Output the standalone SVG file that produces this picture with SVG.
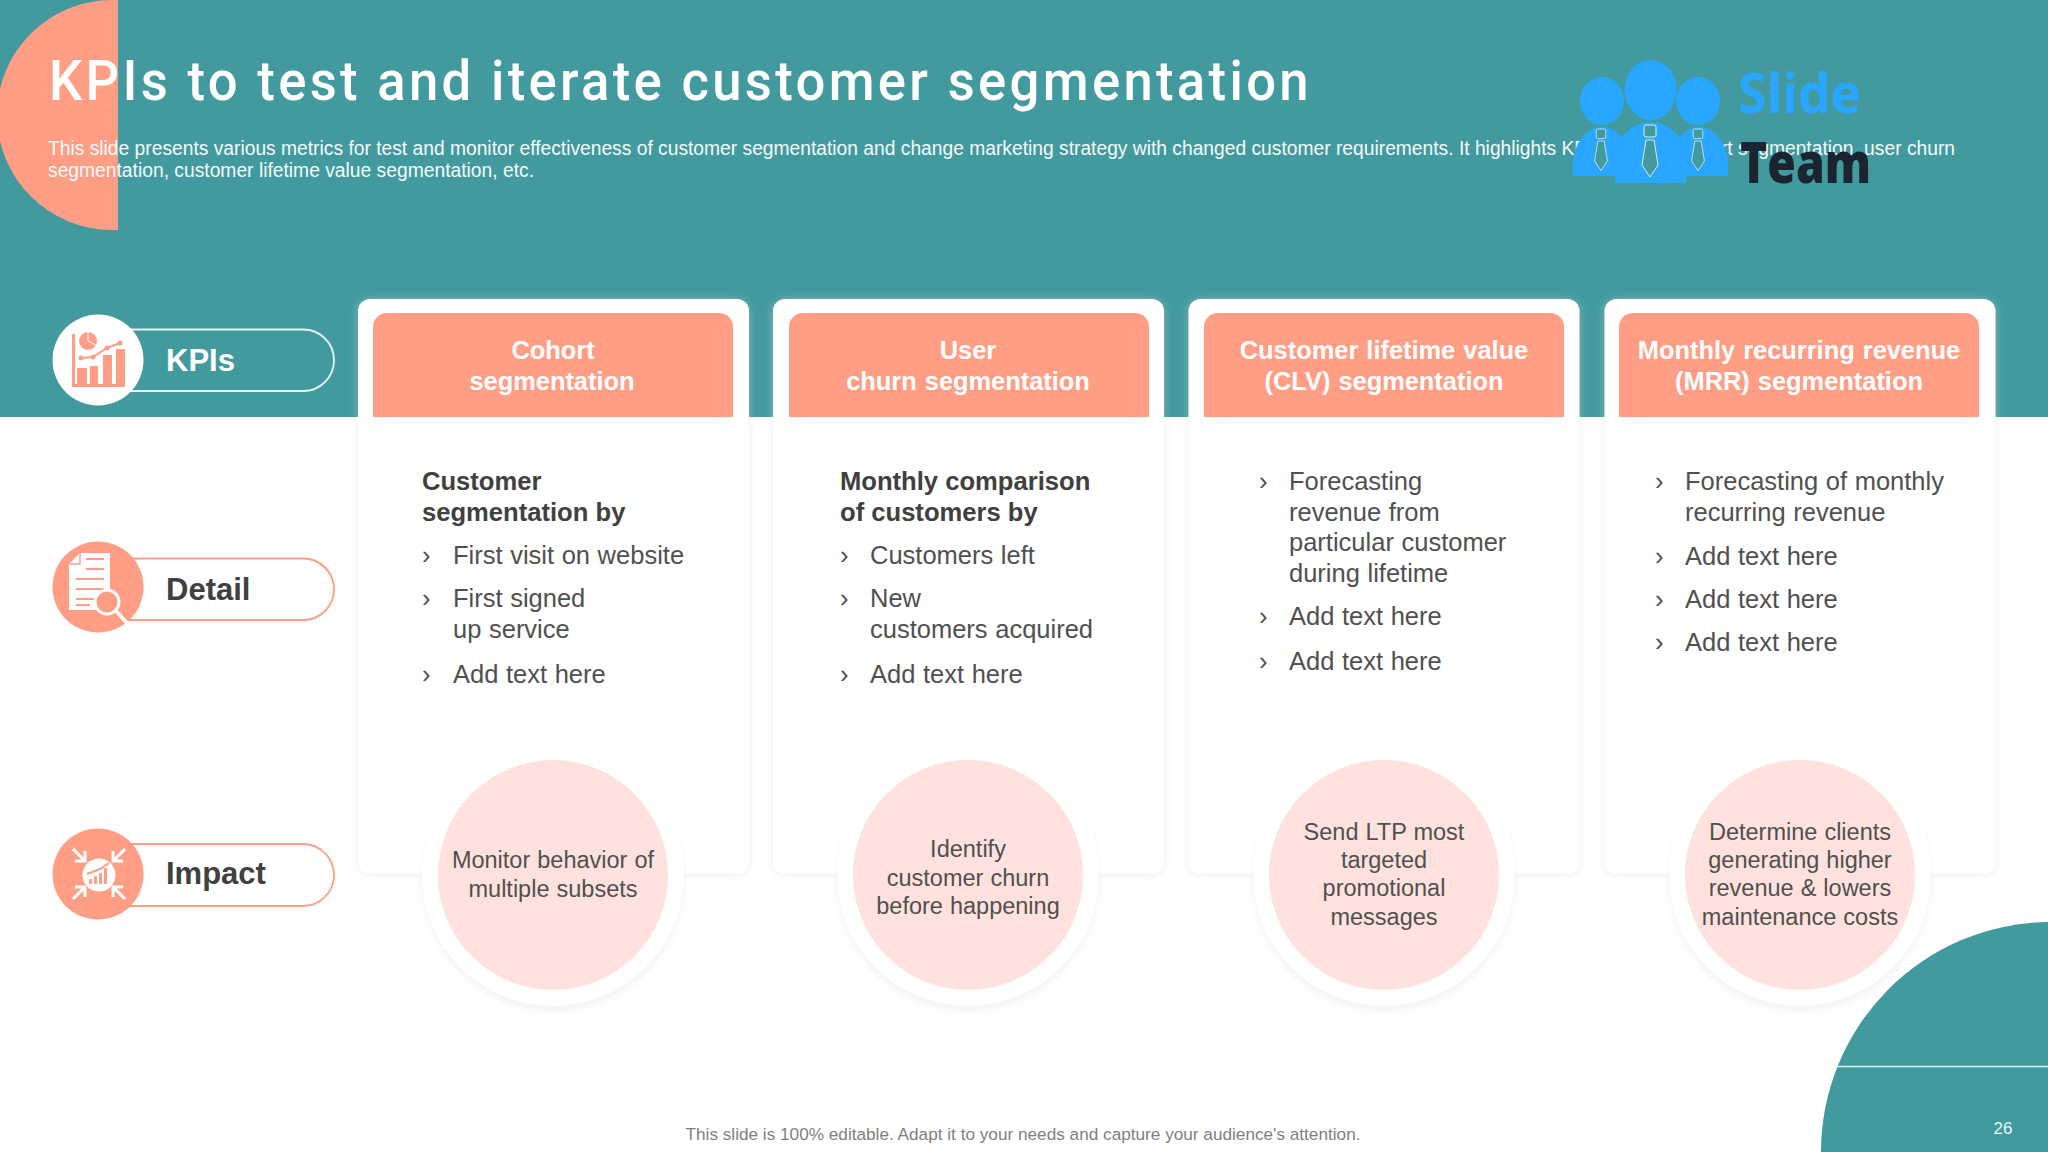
<svg xmlns="http://www.w3.org/2000/svg" xmlns:xlink="http://www.w3.org/1999/xlink" width="2048" height="1152" viewBox="0 0 2048 1152">
<style>
text{font-family:"Liberation Sans",Arial,sans-serif}
.teal{fill:#429a9e}.or{fill:#ff9e85}
.title{font-family:"Roboto","Liberation Sans",sans-serif;font-size:56px;font-weight:500;fill:#fff}
.sub{font-size:19.5px;fill:#f4fbfb}
.hd{font-size:25.4px;font-weight:700;fill:#fff;text-anchor:middle;word-spacing:1px}
.b{font-size:25.6px;font-weight:700;fill:#404040}
.t{font-size:25.5px;fill:#505050;word-spacing:.5px}
.c{font-size:23.5px;fill:#505050;text-anchor:middle;word-spacing:.5px}
.lab{font-size:31px;font-weight:700;fill:#404040}
.card{fill:#fff;filter:url(#s)}
.halo{fill:#fff;filter:url(#s2)}
.pink{fill:#ffe2dd}
.logo{font-family:"Open Sans","Noto Sans",sans-serif;font-size:56px;font-weight:700}
</style>
<defs>
<filter id="s" x="-10%" y="-10%" width="120%" height="120%"><feDropShadow dx="0" dy="1" stdDeviation="5" flood-color="#dcd6ea" flood-opacity=".45"/></filter>
<filter id="s2" x="-15%" y="-15%" width="130%" height="130%"><feDropShadow dx="0" dy="5" stdDeviation="3" flood-color="#d8d8e0" flood-opacity=".3"/></filter>
<g id="tie"><rect x="-6" y="0" width="12" height="12" rx="2" fill="#429a9e" stroke="#d8eef0" stroke-width="1"/><path d="M-4,15 H4 L8,40 L0,52 L-8,40 Z" fill="#429a9e" stroke="#d8eef0" stroke-width="1"/></g>
<g id="card"><rect class="card" x="0" y="0" width="391" height="575" rx="12"/></g>
<path id="hdr" d="M0,104 V14 A14,14 0 0 1 14,0 H346 A14,14 0 0 1 360,14 V104 Z" class="or"/>
</defs>

<rect width="2048" height="1152" fill="#fff"/>
<rect id="band" class="teal" width="2048" height="417"/>
<path id="arc" class="or" d="M118,0 H112 A115,115 0 0 0 112,230 H118 Z"/>
<text class="title" transform="translate(49,100) scale(.94,1)" x="0" y="0" textLength="1340" lengthAdjust="spacing">KPIs to test and iterate customer segmentation</text>
<text class="sub" x="48" y="155" textLength="1907" lengthAdjust="spacingAndGlyphs">This slide presents various metrics for test and monitor effectiveness of customer segmentation and change marketing strategy with changed customer requirements. It highlights KPIs such as cohort segmentation, user churn</text>
<text class="sub" x="48" y="177" textLength="486" lengthAdjust="spacingAndGlyphs">segmentation, customer lifetime value segmentation, etc.</text>

<g id="logo">
<path fill="#29a6ff" d="M1573,176 V165 C1573,142 1588,127 1602,127 C1616,127 1630,140 1630,165 V176 Z"/>
<path fill="#29a6ff" d="M1728,176 V165 C1728,142 1713,127 1699,127 C1685,127 1671,140 1671,165 V176 Z"/>
<path fill="#29a6ff" d="M1615,183 V160 C1615,136 1634,122 1650,122 C1667,122 1686,136 1686,160 V183 Z"/>
<ellipse cx="1602" cy="101" rx="22" ry="24" fill="#29a6ff"/>
<ellipse cx="1698" cy="101" rx="22" ry="24" fill="#29a6ff"/>
<ellipse cx="1650.5" cy="90" rx="26" ry="30" fill="#29a6ff"/>
<use xlink:href="#tie" href="#tie" transform="translate(1601,129) scale(.8)"/>
<use xlink:href="#tie" href="#tie" transform="translate(1650,125)"/>
<use xlink:href="#tie" href="#tie" transform="translate(1698,129) scale(.8)"/>
<text class="logo" x="1738" y="113" fill="#29a6ff" textLength="123" lengthAdjust="spacingAndGlyphs">Slide</text>
<text class="logo" x="1740" y="183" fill="#1a2530" style="font-weight:800" textLength="131" lengthAdjust="spacingAndGlyphs">Team</text>
</g>

<g id="label-kpis">
<rect x="98" y="329.500" width="236" height="61.500" rx="30.700" fill="none" stroke="#e4f6f6" stroke-width="1.800"/>
<circle cx="98" cy="360" r="45.500" fill="#fff"/>
<path d="M73.500,334 V385.500 H125" fill="none" stroke="#ff9e85" stroke-width="3"/>
<path class="or" d="M77,368H87V384H77ZM90,366H98V384H90ZM103,355H112V384H103ZM116,349H125V384H116Z"/>
<circle class="or" cx="88" cy="341" r="9"/>
<path d="M88,341V332M88,341L96,345" stroke="#fff" stroke-width="1" fill="none"/>
<path d="M81,358L93,357L107,348L120,343" fill="none" stroke="#ff9e85" stroke-width="2"/>
<circle class="or" cx="81" cy="358" r="2.500"/><circle class="or" cx="93" cy="357" r="2.500"/><circle class="or" cx="107" cy="348" r="2.500"/><circle class="or" cx="120" cy="343" r="2.500"/>
<text class="lab" x="166" y="371" style="fill:#fff">KPIs</text>
</g>

<g id="label-detail">
<rect x="98" y="558.500" width="236" height="61.500" rx="30.700" fill="#fff" stroke="#ff9e85" stroke-width="1.800"/>
<circle class="or" cx="98" cy="587" r="45.500"/>
<path fill="#fff" d="M80,553 H110 V610 H69 V564 Z"/>
<path d="M80,553V564H69" fill="none" stroke="#ff9e85" stroke-width="1.500"/>
<path d="M86,559H104M86,569H104M76,579H104M76,589H104M76,599H95M76,605H90" stroke="#ff9e85" stroke-width="1.800" fill="none"/>
<circle class="or" cx="107" cy="602" r="12" stroke="#fff" stroke-width="3"/>
<path d="M116,611L127,623" stroke="#fff" stroke-width="3.500"/>
<text class="lab" x="166" y="600">Detail</text>
</g>

<g id="label-impact">
<rect x="98" y="844" width="236" height="62" rx="31" fill="#fff" stroke="#ff9e85" stroke-width="1.800"/>
<circle class="or" cx="98" cy="874" r="45.500"/>
<circle cx="99" cy="875" r="16.500" fill="#fff"/>
<path class="or" d="M89,884h3v-5h-3zM94,884h3v-8h-3zM99,884h3v-11h-3zM104,884h3v-16h-3z"/>
<path d="M87,874L100,869L109,863" fill="none" stroke="#ff9e85" stroke-width="2"/>
<g fill="none" stroke="#fff" stroke-width="3">
<path d="M73,849L85,861M85,851V861H75"/>
<path d="M125,849L113,861M113,851V861H123"/>
<path d="M73,899L85,887M85,897V887H75"/>
<path d="M125,899L113,887M113,897V887H123"/>
</g>
<text class="lab" x="166" y="884">Impact</text>
</g>

<g id="col-1">
<use xlink:href="#card" href="#card" x="358" y="299"/>
<use xlink:href="#hdr" href="#hdr" x="373" y="313"/>
<text class="hd" x="553" y="359">Cohort</text>
<text class="hd" x="552" y="390">segmentation</text>
<text class="b" x="422" y="490">Customer</text>
<text class="b" x="422" y="521">segmentation by</text>
<text class="t" x="422" y="564">›</text><text class="t" x="453" y="564">First visit on website</text>
<text class="t" x="422" y="607">›</text><text class="t" x="453" y="607">First signed</text>
<text class="t" x="453" y="638">up service</text>
<text class="t" x="422" y="683">›</text><text class="t" x="453" y="683">Add text here</text>
<circle class="halo" cx="553" cy="875" r="131"/>
<circle class="pink" cx="553" cy="875" r="115"/>
<text class="c" x="553" y="868">Monitor behavior of</text>
<text class="c" x="553" y="897">multiple subsets</text>
</g>

<g id="col-2">
<use xlink:href="#card" href="#card" x="773" y="299"/>
<use xlink:href="#hdr" href="#hdr" x="789" y="313"/>
<text class="hd" x="968" y="359">User</text>
<text class="hd" x="968" y="390">churn segmentation</text>
<text class="b" x="840" y="490">Monthly comparison</text>
<text class="b" x="840" y="521">of customers by</text>
<text class="t" x="840" y="564">›</text><text class="t" x="870" y="564">Customers left</text>
<text class="t" x="840" y="607">›</text><text class="t" x="870" y="607">New</text>
<text class="t" x="870" y="638">customers acquired</text>
<text class="t" x="840" y="683">›</text><text class="t" x="870" y="683">Add text here</text>
<circle class="halo" cx="968" cy="875" r="131"/>
<circle class="pink" cx="968" cy="875" r="115"/>
<text class="c" x="968" y="857">Identify</text>
<text class="c" x="968" y="886">customer churn</text>
<text class="c" x="968" y="914">before happening</text>
</g>

<g id="col-3">
<use xlink:href="#card" href="#card" x="1188.500" y="299"/>
<use xlink:href="#hdr" href="#hdr" x="1204" y="313"/>
<text class="hd" x="1384" y="359">Customer lifetime value</text>
<text class="hd" x="1384" y="390">(CLV) segmentation</text>
<text class="t" x="1259" y="490">›</text><text class="t" x="1289" y="490">Forecasting</text>
<text class="t" x="1289" y="521">revenue from</text>
<text class="t" x="1289" y="551">particular customer</text>
<text class="t" x="1289" y="582">during lifetime</text>
<text class="t" x="1259" y="625">›</text><text class="t" x="1289" y="625">Add text here</text>
<text class="t" x="1259" y="670">›</text><text class="t" x="1289" y="670">Add text here</text>
<circle class="halo" cx="1384" cy="875" r="131"/>
<circle class="pink" cx="1384" cy="875" r="115"/>
<text class="c" x="1384" y="840">Send LTP most</text>
<text class="c" x="1384" y="868">targeted</text>
<text class="c" x="1384" y="896">promotional</text>
<text class="c" x="1384" y="925">messages</text>
</g>

<g id="col-4">
<use xlink:href="#card" href="#card" x="1604.500" y="299"/>
<use xlink:href="#hdr" href="#hdr" x="1619" y="313"/>
<text class="hd" x="1799" y="359">Monthly recurring revenue</text>
<text class="hd" x="1799" y="390">(MRR) segmentation</text>
<text class="t" x="1655" y="490">›</text><text class="t" x="1685" y="490">Forecasting of monthly</text>
<text class="t" x="1685" y="521">recurring revenue</text>
<text class="t" x="1655" y="565">›</text><text class="t" x="1685" y="565">Add text here</text>
<text class="t" x="1655" y="608">›</text><text class="t" x="1685" y="608">Add text here</text>
<text class="t" x="1655" y="651">›</text><text class="t" x="1685" y="651">Add text here</text>
<circle class="halo" cx="1800" cy="875" r="131"/>
<circle class="pink" cx="1800" cy="875" r="115"/>
<text class="c" x="1800" y="840">Determine clients</text>
<text class="c" x="1800" y="868">generating higher</text>
<text class="c" x="1800" y="896">revenue &amp; lowers</text>
<text class="c" x="1800" y="925">maintenance costs</text>
</g>

<path id="corner" class="teal" d="M2048,922 A230,230 0 0 0 1821,1152 H2048 Z"/>
<path d="M1837,1066.500H2048" stroke="#d8f2f2" stroke-width="1.500"/>
<text x="2003" y="1134" font-size="17" fill="#e8f6f6" text-anchor="middle">26</text>
<text x="1023" y="1140" font-size="17.200" fill="#7f7f7f" text-anchor="middle">This slide is 100% editable. Adapt it to your needs and capture your audience's attention.</text>
</svg>
